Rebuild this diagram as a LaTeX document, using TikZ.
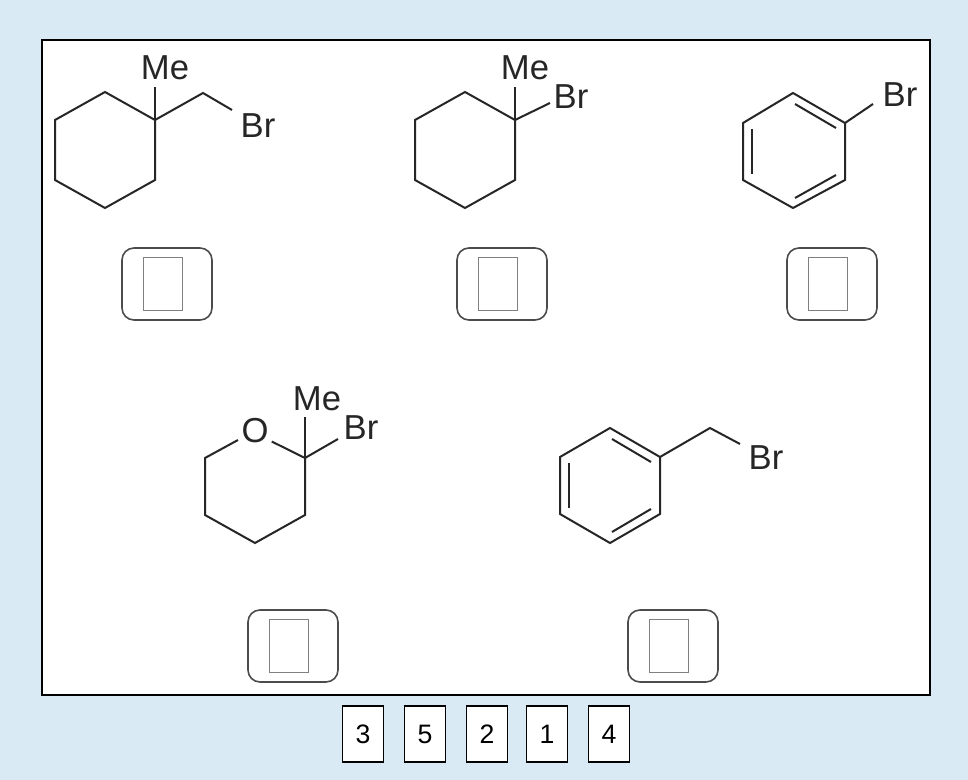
\documentclass[tikz,border=0pt]{standalone}
\usepackage{fontspec}
\setmainfont{Liberation Sans}
\definecolor{bgc}{RGB}{217,234,244}
\begin{document}
\begin{tikzpicture}[x=0.75pt,y=-0.75pt,
  bond/.style={line width=1.5pt,draw=black!85},
  lbl/.style={font=\fontsize{26}{26}\selectfont,inner sep=0pt,text=black!85},
  ansbox/.style={draw=black!70,line width=1.2pt,rounded corners=9pt,minimum width=67.5pt,minimum height=54pt},
  slot/.style={draw=black!50,line width=1.2pt,minimum width=29pt,minimum height=40pt,fill=white},
  tile/.style={draw=black,line width=1.2pt,fill=white,minimum width=31pt,minimum height=42pt,inner sep=0pt,font=\fontsize{20}{20}\selectfont}]
\fill[bgc] (0,0) rectangle (968,780);
\draw[line width=1.5pt,fill=white] (42,40) rectangle (930,695);
% molecule 1
\coordinate (a1) at (155,120); \coordinate (a2) at (105,92); \coordinate (a3) at (55,120);
\coordinate (a4) at (55,180); \coordinate (a5) at (105,208); \coordinate (a6) at (155,180);
\draw[bond] (a1)--(a2)--(a3)--(a4)--(a5)--(a6)--cycle;
\node[lbl] (me1) at (165,68) {Me};
\coordinate (c1) at (203,93); \coordinate (b1) at (232,110);
\node[lbl] (br1) at (258,126) {Br};
\draw[bond] (a1)--(155,87);
\draw[bond] (a1)--(c1)--(b1);
% molecule 2
\coordinate (d1) at (515,120); \coordinate (d2) at (465,92); \coordinate (d3) at (415,120);
\coordinate (d4) at (415,180); \coordinate (d5) at (465,208); \coordinate (d6) at (515,180);
\draw[bond] (d1)--(d2)--(d3)--(d4)--(d5)--(d6)--cycle;
\node[lbl] (me2) at (525,68) {Me};
\node[lbl] (br2) at (571,97) {Br};
\draw[bond] (d1)--(515,87);
\draw[bond] (d1)--(550,103);
% molecule 3
\coordinate (e1) at (793,93); \coordinate (e2) at (845,123); \coordinate (e3) at (845,180);
\coordinate (e4) at (793,208); \coordinate (e5) at (743,180); \coordinate (e6) at (743,123);
\draw[bond] (e1)--(e2)--(e3)--(e4)--(e5)--(e6)--cycle;
\draw[bond] (795,104)--(836,128);
\draw[bond] (836,175)--(795,198);
\draw[bond] (752,129)--(752,174);
\draw[bond] (e2)--(873,104);
\node[lbl] (br3) at (900,95) {Br};
% molecule 4
\node[lbl] (o4) at (255,431) {O};
\coordinate (f2) at (305,458); \coordinate (f3) at (305,515); \coordinate (f4) at (255,543);
\coordinate (f5) at (205,515); \coordinate (f6) at (205,458);
\draw[bond] (o4.south east)++(3,-2)--(f2)--(f3)--(f4)--(f5)--(f6)--(238,440);
\node[lbl] (me4) at (317,399) {Me};
\node[lbl] (br4) at (361,428) {Br};
\draw[bond] (f2)--(305,417);
\draw[bond] (f2)--(338,439);
% molecule 5
\coordinate (g1) at (610,428); \coordinate (g2) at (660,457); \coordinate (g3) at (660,514);
\coordinate (g4) at (610,543); \coordinate (g5) at (560,514); \coordinate (g6) at (560,457);
\draw[bond] (g1)--(g2)--(g3)--(g4)--(g5)--(g6)--cycle;
\draw[bond] (612,439)--(651,462);
\draw[bond] (651,509)--(612,532);
\draw[bond] (569,463)--(569,508);
\coordinate (h1) at (710,428);
\draw[bond] (g2)--(h1)--(740,444);
\node[lbl] (br5) at (766,458) {Br};
% answer boxes
\foreach \n/\x/\y in {b1/167/284,b2/502/284,b3/832/284,b4/293/646,b5/673/646}{
  \node[ansbox] (\n) at (\x,\y) {};
  \node[slot] (s\n) at (\x-4,\y) {};
}
% tiles
\foreach \n/\x/\t in {t1/363/3,t2/425/5,t3/487/2,t4/547/1,t5/609/4}{
  \node[tile] (\n) at (\x,734) {\t};
}
\end{tikzpicture}
\end{document}
